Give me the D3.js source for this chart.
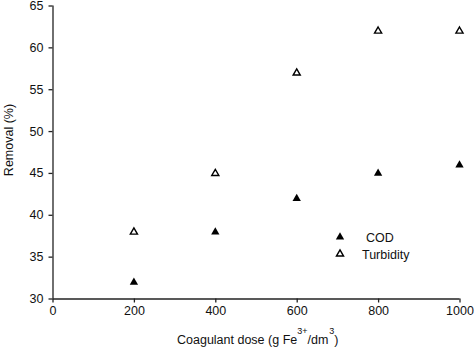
<!DOCTYPE html>
<html><head><meta charset="utf-8">
<script src="https://cdn.jsdelivr.net/npm/d3@7"></script>
<style>body{margin:0;background:#fff}svg{display:block}text{font-family:"Liberation Sans",Arial,sans-serif;fill:#111}</style>
</head><body><svg id="c" width="474" height="349"></svg>
<script>
const doses = [200, 400, 600, 800, 1000];
const codRemoval = [32, 38, 42, 45, 46];
const turbidityRemoval = [38, 45, 57, 62, 62];
const xTicks = [0, 200, 400, 600, 800, 1000];
const yTicks = [30, 35, 40, 45, 50, 55, 60, 65];
const seriesNames = ["COD", "Turbidity"];

const svg = d3.select("#c");
const x = d3.scaleLinear().domain([0, 1000]).range([52.5, 459.5]);
const y = d3.scaleLinear().domain([30, 65]).range([298.5, 5.5]);

const xa = svg.append("g").attr("transform", "translate(0,298.5)")
  .call(d3.axisBottom(x).tickValues(xTicks).tickSize(4).tickPadding(4).tickFormat(d3.format("d")));
const ya = svg.append("g").attr("transform", "translate(52.5,0)")
  .call(d3.axisLeft(y).tickValues(yTicks).tickSize(4).tickPadding(5).tickFormat(d3.format("d")));
[xa, ya].forEach(a => {
  a.selectAll("path").attr("stroke", "#222").attr("stroke-width", 1.3);
  a.selectAll("line").attr("stroke", "#222").attr("stroke-width", 1.3);
  a.selectAll("text").attr("font-size", 12.5).attr("fill", "#111")
    .style("font-family", '"Liberation Sans",Arial,sans-serif');
});
ya.select(".domain").attr("d", "M0.5,298.5V5.5");
xa.select(".domain").attr("d", "M52.5,0.5H459.5");

const tri = d3.symbol().type(d3.symbolTriangle).size(30);
const triOpen = d3.symbol().type(d3.symbolTriangle).size(22);

svg.append("g").selectAll("path").data(doses.map((d, i) => [d, codRemoval[i]])).join("path")
  .attr("d", tri).attr("transform", d => `translate(${x(d[0])},${y(d[1]) + 0.5})`)
  .attr("fill", "#000");
svg.append("g").selectAll("path").data(doses.map((d, i) => [d, turbidityRemoval[i]])).join("path")
  .attr("d", triOpen).attr("transform", d => `translate(${x(d[0])},${y(d[1]) + 0.5})`)
  .attr("fill", "#fff").attr("stroke", "#000").attr("stroke-width", 1.4);

// legend
const lg = svg.append("g");
lg.append("path").attr("d", tri).attr("transform", "translate(340,237)").attr("fill", "#000");
lg.append("path").attr("d", triOpen).attr("transform", "translate(340,254)").attr("fill", "#fff").attr("stroke", "#000").attr("stroke-width", 1.4);
lg.append("text").attr("x", 366).attr("y", 242).attr("font-size", 12.5).text(seriesNames[0]);
lg.append("text").attr("x", 362).attr("y", 259).attr("font-size", 12.5).text(seriesNames[1]);

// axis titles
svg.append("text").attr("transform", "translate(13,140) rotate(-90)").attr("text-anchor", "middle")
  .attr("font-size", 12.5).text("Removal (%)");
const xl = svg.append("text").attr("x", 177).attr("y", 344).attr("font-size", 12.5);
xl.append("tspan").text("Coagulant dose (g Fe");
xl.append("tspan").attr("dy", -10).attr("font-size", 9).text("3+");
xl.append("tspan").attr("dy", 10).text("/dm");
xl.append("tspan").attr("dy", -10).attr("dx", 1).attr("font-size", 9).text("3");
xl.append("tspan").attr("dy", 10).text(")");
</script></body></html>
